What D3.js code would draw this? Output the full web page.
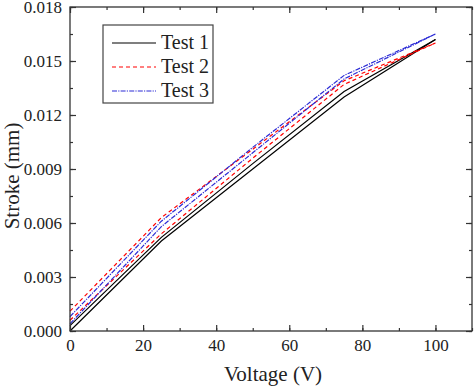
<!DOCTYPE html>
<html><head><meta charset="utf-8">
<script src="https://cdn.jsdelivr.net/npm/d3@7"></script>
<style>body{margin:0;background:#fff}svg{display:block}</style>
</head><body>
<svg id="c" width="474" height="387"></svg>
<script>
const voltage = [0, 25, 50, 75, 100];
const test1Up = [0.0000, 0.0050, 0.0090, 0.0130, 0.0162];
const test1Down = [0.0003, 0.0052, 0.0093, 0.0133, 0.0162];
const test2Up = [0.0006, 0.0054, 0.0096, 0.0137, 0.0160];
const test2Down = [0.0011, 0.0063, 0.0101, 0.0139, 0.0160];
const test3Up = [0.0004, 0.0058, 0.0099, 0.0140, 0.0165];
const test3Down = [0.0008, 0.0061, 0.0102, 0.0142, 0.0165];
const seriesNames = ["Test 1", "Test 2", "Test 3"];
const xTicks = [0, 20, 40, 60, 80, 100];
const yTicks = [0, 0.003, 0.006, 0.009, 0.012, 0.015, 0.018];

const styles = [
  {color: "#000000", dash: null},
  {color: "#ff0000", dash: "4,3"},
  {color: "#2b2bd6", dash: "5,1.2,1.2,1.2"}
];
const series = [[test1Up, test1Down], [test2Up, test2Down], [test3Up, test3Down]];

const svg = d3.select("#c");
const L = 70, R = 472, T = 7, B = 331;
const x = d3.scaleLinear().domain([0, 110]).range([L, R]);
const y = d3.scaleLinear().domain([0, 0.018]).range([B, T]);
const font = "Liberation Serif";

const line = d3.line().x(d => x(d[0])).y(d => y(d[1]));
const g = svg.append("g");
series.forEach((pair, i) => {
  pair.forEach(vals => {
    g.append("path")
      .attr("d", line(voltage.map((v, k) => [v, vals[k]])))
      .attr("fill", "none")
      .attr("stroke", styles[i].color)
      .attr("stroke-width", 1.2)
      .attr("stroke-dasharray", styles[i].dash);
  });
});

const xMinor = d3.range(0, 111, 10);
const yMinor = d3.range(0, 0.01801, 0.0015);

function axisStyle(sel) {
  sel.attr("font-family", null);
  sel.select(".domain").remove();
  sel.selectAll("line").attr("stroke", "#333").attr("stroke-width", 1.2);
  sel.selectAll("text").style("font-family", font).style("font-size", "17px").attr("fill", "#222");
}
// bottom
svg.append("g").attr("transform", `translate(0,${B})`)
  .call(d3.axisBottom(x).tickValues(xMinor).tickSize(-3).tickFormat(""))
  .call(axisStyle);
svg.append("g").attr("transform", `translate(0,${B})`)
  .call(d3.axisBottom(x).tickValues(xTicks).tickSize(-6).tickPadding(8).tickFormat(d3.format("d")))
  .call(axisStyle);
// top
svg.append("g").attr("transform", `translate(0,${T})`)
  .call(d3.axisTop(x).tickValues(xMinor).tickSize(-3).tickFormat(""))
  .call(axisStyle);
svg.append("g").attr("transform", `translate(0,${T})`)
  .call(d3.axisTop(x).tickValues(xTicks).tickSize(-6).tickFormat(""))
  .call(axisStyle);
// left
svg.append("g").attr("transform", `translate(${L},0)`)
  .call(d3.axisLeft(y).tickValues(yMinor).tickSize(-3).tickFormat(""))
  .call(axisStyle);
svg.append("g").attr("transform", `translate(${L},0)`)
  .call(d3.axisLeft(y).tickValues(yTicks).tickSize(-6).tickPadding(8).tickFormat(d3.format(".3f")))
  .call(axisStyle);
// right
svg.append("g").attr("transform", `translate(${R},0)`)
  .call(d3.axisRight(y).tickValues(yMinor).tickSize(-3).tickFormat(""))
  .call(axisStyle);
svg.append("g").attr("transform", `translate(${R},0)`)
  .call(d3.axisRight(y).tickValues(yTicks).tickSize(-6).tickFormat(""))
  .call(axisStyle);

svg.append("rect").attr("x", L).attr("y", T).attr("width", R - L).attr("height", B - T)
  .attr("fill", "none").attr("stroke", "#333").attr("stroke-width", 1.3);

// axis titles
svg.append("text").attr("x", (L + R) / 2 + 2).attr("y", 381).attr("text-anchor", "middle")
  .style("font-family", font).style("font-size", "21px").attr("fill", "#222").text("Voltage (V)");
svg.append("text").attr("transform", `translate(19,176) rotate(-90)`)
  .attr("text-anchor", "middle")
  .style("font-family", font).style("font-size", "21px").attr("fill", "#222").text("Stroke (mm)");

// legend
const lg = svg.append("g");
lg.append("rect").attr("x", 103).attr("y", 25).attr("width", 110).attr("height", 78)
  .attr("fill", "#fff").attr("stroke", "#444").attr("stroke-width", 1.2);
seriesNames.forEach((name, i) => {
  const yy = 43 + i * 24;
  lg.append("line").attr("x1", 112).attr("x2", 156).attr("y1", yy).attr("y2", yy)
    .attr("stroke", styles[i].color).attr("stroke-width", 1.2)
    .attr("stroke-dasharray", styles[i].dash);
  lg.append("text").attr("x", 161).attr("y", yy + 6)
    .style("font-family", font).style("font-size", "20px").attr("fill", "#222").text(name);
});
</script>
</body></html>
